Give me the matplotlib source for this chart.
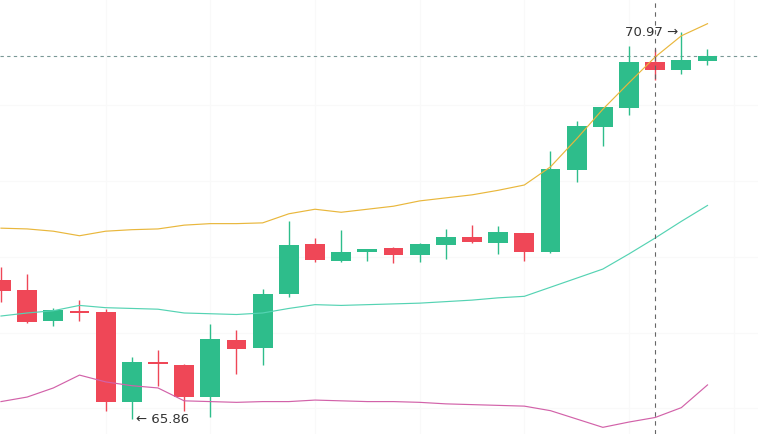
import numpy as np
import matplotlib.pyplot as plt

# OHLC
opens  = [67.70, 67.56, 67.16, 67.29, 67.27, 66.08, 66.61, 66.57, 66.15, 66.90,
          66.80, 67.51, 68.17, 67.95, 68.06, 68.12, 68.02, 68.16, 68.26, 68.19,
          68.31, 68.06, 69.15, 69.72, 69.97, 70.57, 70.47, 70.59]
highs  = [67.87, 67.78, 67.33, 67.43, 67.31, 66.68, 66.77, 66.58, 67.11, 67.03,
          67.58, 68.47, 68.25, 68.36, 68.11, 68.13, 68.18, 68.37, 68.42, 68.41,
          68.32, 69.40, 69.79, 69.98, 70.79, 70.74, 70.97, 70.75]
lows   = [67.41, 67.13, 67.09, 67.15, 65.97, 65.86, 66.30, 65.97, 65.88, 66.46,
          66.57, 67.47, 67.93, 67.93, 67.95, 67.92, 67.93, 67.97, 68.19, 68.04,
          67.95, 68.05, 68.99, 69.47, 69.88, 70.33, 70.42, 70.53]
closes = [67.55, 67.14, 67.30, 67.26, 66.08, 66.61, 66.58, 66.15, 66.92, 66.79,
          67.51, 68.16, 67.96, 68.06, 68.10, 68.02, 68.17, 68.26, 68.20, 68.33,
          68.06, 69.16, 69.73, 69.98, 70.57, 70.47, 70.60, 70.65]

# Bollinger bands
boll_up  = [68.38, 68.37, 68.34, 68.28, 68.34, 68.36, 68.37, 68.42, 68.44, 68.44,
            68.45, 68.57, 68.63, 68.59, 68.63, 68.67, 68.74, 68.78, 68.82, 68.88,
            68.95, 69.19, 69.56, 69.95, 70.30, 70.64, 70.92, 71.08]
boll_mid = [67.22, 67.26, 67.29, 67.36, 67.33, 67.32, 67.31, 67.26, 67.25, 67.24,
            67.26, 67.32, 67.37, 67.36, 67.37, 67.38, 67.39, 67.41, 67.43, 67.46,
            67.48, 67.60, 67.72, 67.84, 68.04, 68.25, 68.47, 68.68]
boll_low = [66.09, 66.15, 66.27, 66.44, 66.35, 66.30, 66.27, 66.10, 66.09, 66.08,
            66.09, 66.09, 66.11, 66.10, 66.09, 66.09, 66.08, 66.06, 66.05, 66.04,
            66.03, 65.97, 65.86, 65.75, 65.82, 65.88, 66.01, 66.31]

crosshair_idx = 25
grid_x = [4, 8, 12, 16, 20, 24, 28]
grid_y = [66, 67, 68, 69, 70]

GREEN = '#2ebd8b'
RED = '#ef4757'

fig = plt.figure(figsize=(7.58, 4.34), dpi=100)
ax = fig.add_axes([0, 0, 1, 1])
ax.set_axis_off()
ax.set_xlim(-0.038, 28.93)
ax.set_ylim(65.662, 71.393)

# barely visible grid
for gx in grid_x:
    ax.axvline(gx, color='#f9f9f9', lw=0.8, zorder=0)
for gy in grid_y:
    ax.axhline(gy, color='#f9f9f9', lw=0.8, zorder=0)

x = np.arange(len(opens))
o = np.array(opens)
c = np.array(closes)
colors = [GREEN if cc >= oo else RED for oo, cc in zip(o, c)]

ax.vlines(x, lows, highs, colors=colors, lw=1.0, zorder=2)
ax.bar(x, np.abs(c - o), bottom=np.minimum(o, c), width=0.76,
       color=colors, zorder=3)

# bands
ax.plot(x, boll_up, color='#e9b73c', lw=0.85, zorder=4)
ax.plot(x, boll_mid, color='#55d3b3', lw=0.85, zorder=4)
ax.plot(x, boll_low, color='#d262a9', lw=0.85, zorder=4)

# last price line and crosshair
ax.axhline(closes[-1], color='#7a9896', lw=0.8, ls=(0, (3, 3)), zorder=1)
ax.axvline(crosshair_idx, color='#666666', lw=0.8, ls=(0, (4, 4)), zorder=5)

# max / min labels
imax = int(np.argmax(highs))
imin = int(np.argmin(lows))
ax.text(imax - 0.12, highs[imax], f'{highs[imax]:.2f} \u2192', ha='right',
        va='center', fontsize=9.5, color='#333333', zorder=6)
ax.text(imin + 0.15, lows[imin], f'\u2190 {lows[imin]:.2f}', ha='left',
        va='center', fontsize=9.5, color='#333333', zorder=6)

fig.savefig('out.png', dpi=100)
